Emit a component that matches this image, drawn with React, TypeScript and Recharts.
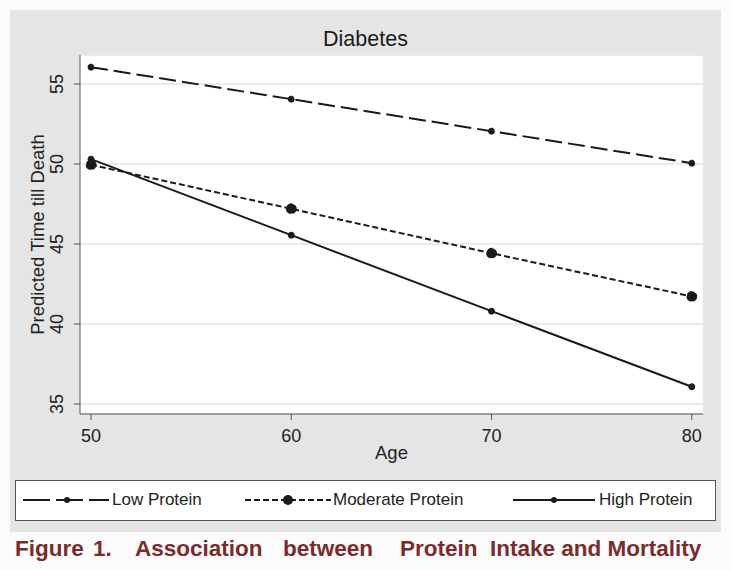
import React from 'react';
import { LineChart, Line, XAxis, YAxis, CartesianGrid, Legend, Label } from 'recharts';

// ages on the x axis
const ages = [50, 60, 70, 80];
// predicted time till death
const lowProtein = [56.05, 54.05, 52.05, 50.05];
const moderateProtein = [49.95, 47.2, 44.42, 41.72];
const highProtein = [50.3, 45.55, 40.8, 36.08];
const xTicks = [50, 60, 70, 80];
const yTicks = [35, 40, 45, 50, 55];
const seriesNames = ['Low Protein', 'Moderate Protein', 'High Protein'];

const data = ages.map((age, i) => ({
  age,
  low: lowProtein[i],
  moderate: moderateProtein[i],
  high: highProtein[i],
}));

const FONT = '"Liberation Sans", Arial, Helvetica, sans-serif';
const INK = '#1a1a1a';

const series = [
  { key: 'low', name: seriesNames[0], dash: '17 6', r: 3 },
  { key: 'moderate', name: seriesNames[1], dash: '6 3', r: 5 },
  { key: 'high', name: seriesNames[2], dash: undefined, r: 3 },
];

const YTick = (props: any) => {
  const { x, y, payload } = props;
  return (
    <text
      transform={`translate(${x - 9}, ${y}) rotate(-90)`}
      textAnchor="middle"
      fill="#222"
      fontSize={18}
      fontFamily={FONT}
    >
      {payload.value}
    </text>
  );
};

// legend item positions, relative to the legend box
const legendSlots = [
  { iconLeft: 7, iconWidth: 86, dot: 44, textLeft: 96 },
  { iconLeft: 229, iconWidth: 86, dot: 43, textLeft: 317 },
  { iconLeft: 497, iconWidth: 82, dot: 41, textLeft: 583 },
];

const LegendBox = () => (
  <div
    style={{
      position: 'relative',
      width: 701,
      height: 41,
      boxSizing: 'border-box',
      border: '1.5px solid #555',
      background: '#fff',
      fontFamily: FONT,
      fontSize: 17,
      color: '#222',
    }}
  >
    {series.map((s, i) => {
      const slot = legendSlots[i];
      return (
        <React.Fragment key={s.key}>
          <svg
            width={slot.iconWidth}
            height={20}
            style={{ position: 'absolute', left: slot.iconLeft, top: 9 }}
          >
            <line
              x1={0}
              y1={10}
              x2={slot.iconWidth}
              y2={10}
              stroke={INK}
              strokeWidth={2}
              strokeDasharray={s.key === 'low' ? '27 6' : s.dash}
            />
            <circle cx={slot.dot} cy={10} r={s.r} fill={INK} />
          </svg>
          <span style={{ position: 'absolute', left: slot.textLeft, top: 9, lineHeight: '20px' }}>
            {s.name}
          </span>
        </React.Fragment>
      );
    })}
  </div>
);

const captionWords = [
  { text: 'Figure', left: 15 },
  { text: '1.', left: 93 },
  { text: 'Association', left: 135 },
  { text: 'between', left: 283 },
  { text: 'Protein', left: 400 },
  { text: 'Intake and Mortality', left: 490 },
];

export default function App() {
  return (
    <div
      style={{
        position: 'absolute',
        left: 0,
        top: 0,
        width: 732,
        height: 570,
        background: '#fbfbfb',
        fontFamily: FONT,
      }}
    >
      <div
        style={{
          position: 'absolute',
          left: 10,
          top: 10,
          width: 711,
          height: 522,
          background: '#e5e5e5',
        }}
      >
        <div
          style={{
            position: 'absolute',
            left: 0,
            width: 711,
            top: 19,
            textAlign: 'center',
            fontSize: 21.5,
            lineHeight: '21px',
            color: '#1a1a1a',
          }}
        >
          Diabetes
        </div>
        <div style={{ position: 'absolute', left: 0, top: 0 }}>
          <LineChart
            width={711}
            height={522}
            data={data}
            margin={{ top: 45, right: 18, bottom: 58, left: 10 }}
          >
            <CartesianGrid
              vertical={false}
              stroke="#e4e4e4"
              strokeWidth={1.5}
              fill="#ffffff"
              fillOpacity={1}
            />
            <XAxis
              dataKey="age"
              type="number"
              domain={[49.45, 80.56]}
              ticks={xTicks}
              allowDataOverflow
              height={60}
              tickSize={6}
              tickMargin={9}
              axisLine={{ stroke: '#555', strokeWidth: 1 }}
              tickLine={{ stroke: '#555', strokeWidth: 1 }}
              tick={{ fill: '#222', fontSize: 18, fontFamily: FONT }}
            >
              <Label
                content={(p: any) => {
                  const vb = p.viewBox;
                  return (
                    <text
                      x={vb.x + vb.width / 2}
                      y={449}
                      textAnchor="middle"
                      fill="#222"
                      fontSize={18.5}
                      fontFamily={FONT}
                    >
                      Age
                    </text>
                  );
                }}
              />
            </XAxis>
            <YAxis
              type="number"
              domain={[34.375, 56.81]}
              ticks={yTicks}
              allowDataOverflow
              width={60}
              tickSize={6}
              axisLine={{ stroke: '#555', strokeWidth: 1 }}
              tickLine={{ stroke: '#555', strokeWidth: 1 }}
              tick={<YTick />}
            >
              <Label
                content={(p: any) => {
                  const vb = p.viewBox;
                  const cy = vb.y + vb.height / 2;
                  return (
                    <text
                      transform={`translate(34, ${cy}) rotate(-90)`}
                      textAnchor="middle"
                      fill="#222"
                      fontSize={18.5}
                      fontFamily={FONT}
                    >
                      Predicted Time till Death
                    </text>
                  );
                }}
              />
            </YAxis>
            <Legend
              verticalAlign="middle"
              align="center"
              layout="horizontal"
              wrapperStyle={{ left: 5, top: 470, width: 701, height: 41 }}
              content={() => <LegendBox />}
            />
            {series.map((s) => (
              <Line
                key={s.key}
                type="linear"
                dataKey={s.key}
                name={s.name}
                stroke={INK}
                strokeWidth={2}
                strokeDasharray={s.dash}
                dot={{ r: s.r, fill: INK, stroke: INK, strokeWidth: 1 }}
                activeDot={false}
                isAnimationActive={false}
              />
            ))}
          </LineChart>
        </div>
      </div>
      {captionWords.map((w) => (
        <div
          key={w.text}
          style={{
            position: 'absolute',
            left: w.left,
            top: 538,
            fontSize: 22.5,
            lineHeight: '22px',
            fontWeight: 'bold',
            color: '#7a2b2b',
            whiteSpace: 'nowrap',
          }}
        >
          {w.text}
        </div>
      ))}
    </div>
  );
}
